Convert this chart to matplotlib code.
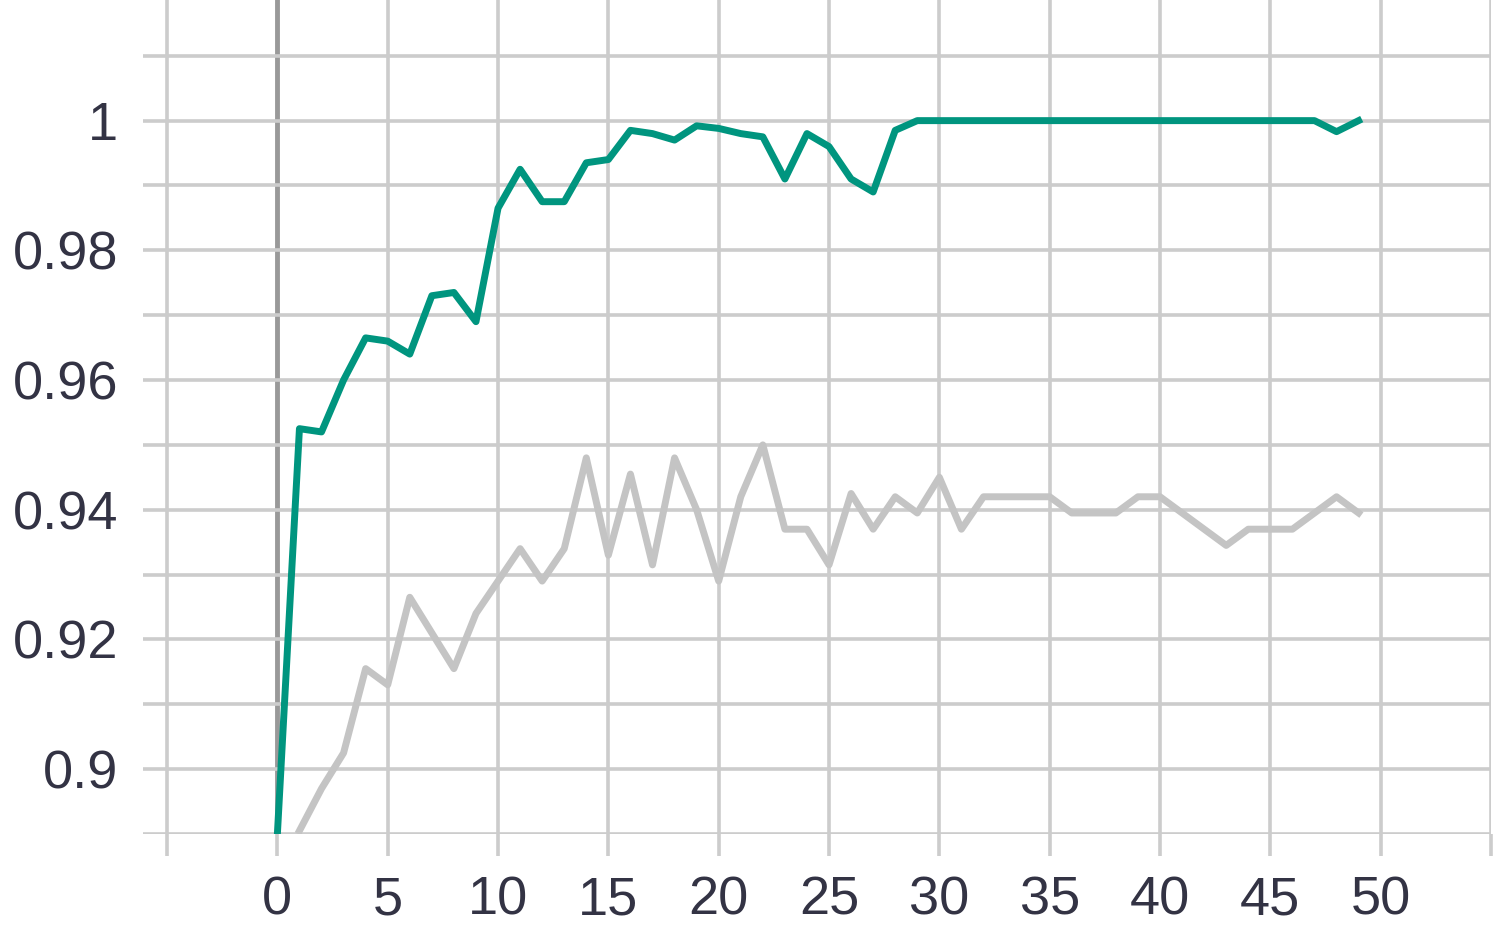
import matplotlib
matplotlib.use("Agg")
import matplotlib.pyplot as plt

epochs_train = list(range(0, 50))
train_acc = [0.89, 0.9525, 0.952, 0.960, 0.9665, 0.966, 0.964, 0.973, 0.9735, 0.969,
             0.9865, 0.9925, 0.9875, 0.9875, 0.9935, 0.994, 0.9985, 0.998, 0.997, 0.9992,
             0.9988, 0.998, 0.9975, 0.991, 0.998, 0.996, 0.991, 0.989, 0.9985, 1.0,
             1.0, 1.0, 1.0, 1.0, 1.0, 1.0, 1.0, 1.0, 1.0, 1.0,
             1.0, 1.0, 1.0, 1.0, 1.0, 1.0, 1.0, 1.0, 0.9983, 1.0]
epochs_val = list(range(1, 50))
val_acc = [0.8905, 0.897, 0.9025, 0.9155, 0.913, 0.9265, 0.921, 0.9155, 0.924,
           0.929, 0.934, 0.929, 0.934, 0.948, 0.933, 0.9455, 0.9315, 0.948, 0.940,
           0.929, 0.942, 0.950, 0.937, 0.937, 0.9315, 0.9425, 0.937, 0.942, 0.9395,
           0.945, 0.937, 0.942, 0.942, 0.942, 0.942, 0.9395, 0.9395, 0.9395, 0.942,
           0.942, 0.9395, 0.937, 0.9345, 0.937, 0.937, 0.937, 0.9395, 0.942, 0.9395]
x_ticks = list(range(-5, 60, 5))
x_labels = ['' if t < 0 or t > 50 else str(t) for t in x_ticks]
y_major = [0.90, 0.92, 0.94, 0.96, 0.98, 1.00]
y_labels = ['0.9', '0.92', '0.94', '0.96', '0.98', '1']
y_minor = [0.89, 0.91, 0.93, 0.95, 0.97, 0.99, 1.01]

plt.rcParams['font.family'] = ['Liberation Sans', 'DejaVu Sans']
fig = plt.figure(figsize=(15, 9.35), dpi=100)
ax = fig.add_axes([143/1500, 101/935, (1491-143)/1500, 834/935])
ax.set_xlim(-6.09, 55)
ax.set_ylim(0.89, 1.0186)
grid_c = '#cccccc'
for t in x_ticks:
    ax.axvline(t, color='#999999' if t == 0 else grid_c, lw=3.5 if t == 0 else 2.6, zorder=1)
for t in y_major + y_minor:
    ax.axhline(t, color=grid_c, lw=2.6, zorder=1)
ax.plot(epochs_val, val_acc, color='#c4c4c4', lw=5, zorder=3)
ax.plot(epochs_train, train_acc, color='#00957f', lw=5, zorder=4)
ax.set_xticks(x_ticks)
ax.set_xticklabels(x_labels)
ax.set_yticks(y_major)
ax.set_yticklabels(y_labels)
ax.tick_params(axis='x', length=16, width=2.6, color=grid_c, labelsize=39,
               labelcolor='#333344', pad=14)
ax.tick_params(axis='y', length=0, labelsize=39, labelcolor='#333344', pad=18)
for s in ax.spines.values():
    s.set_visible(False)
fig.savefig('out.png', dpi=100)
